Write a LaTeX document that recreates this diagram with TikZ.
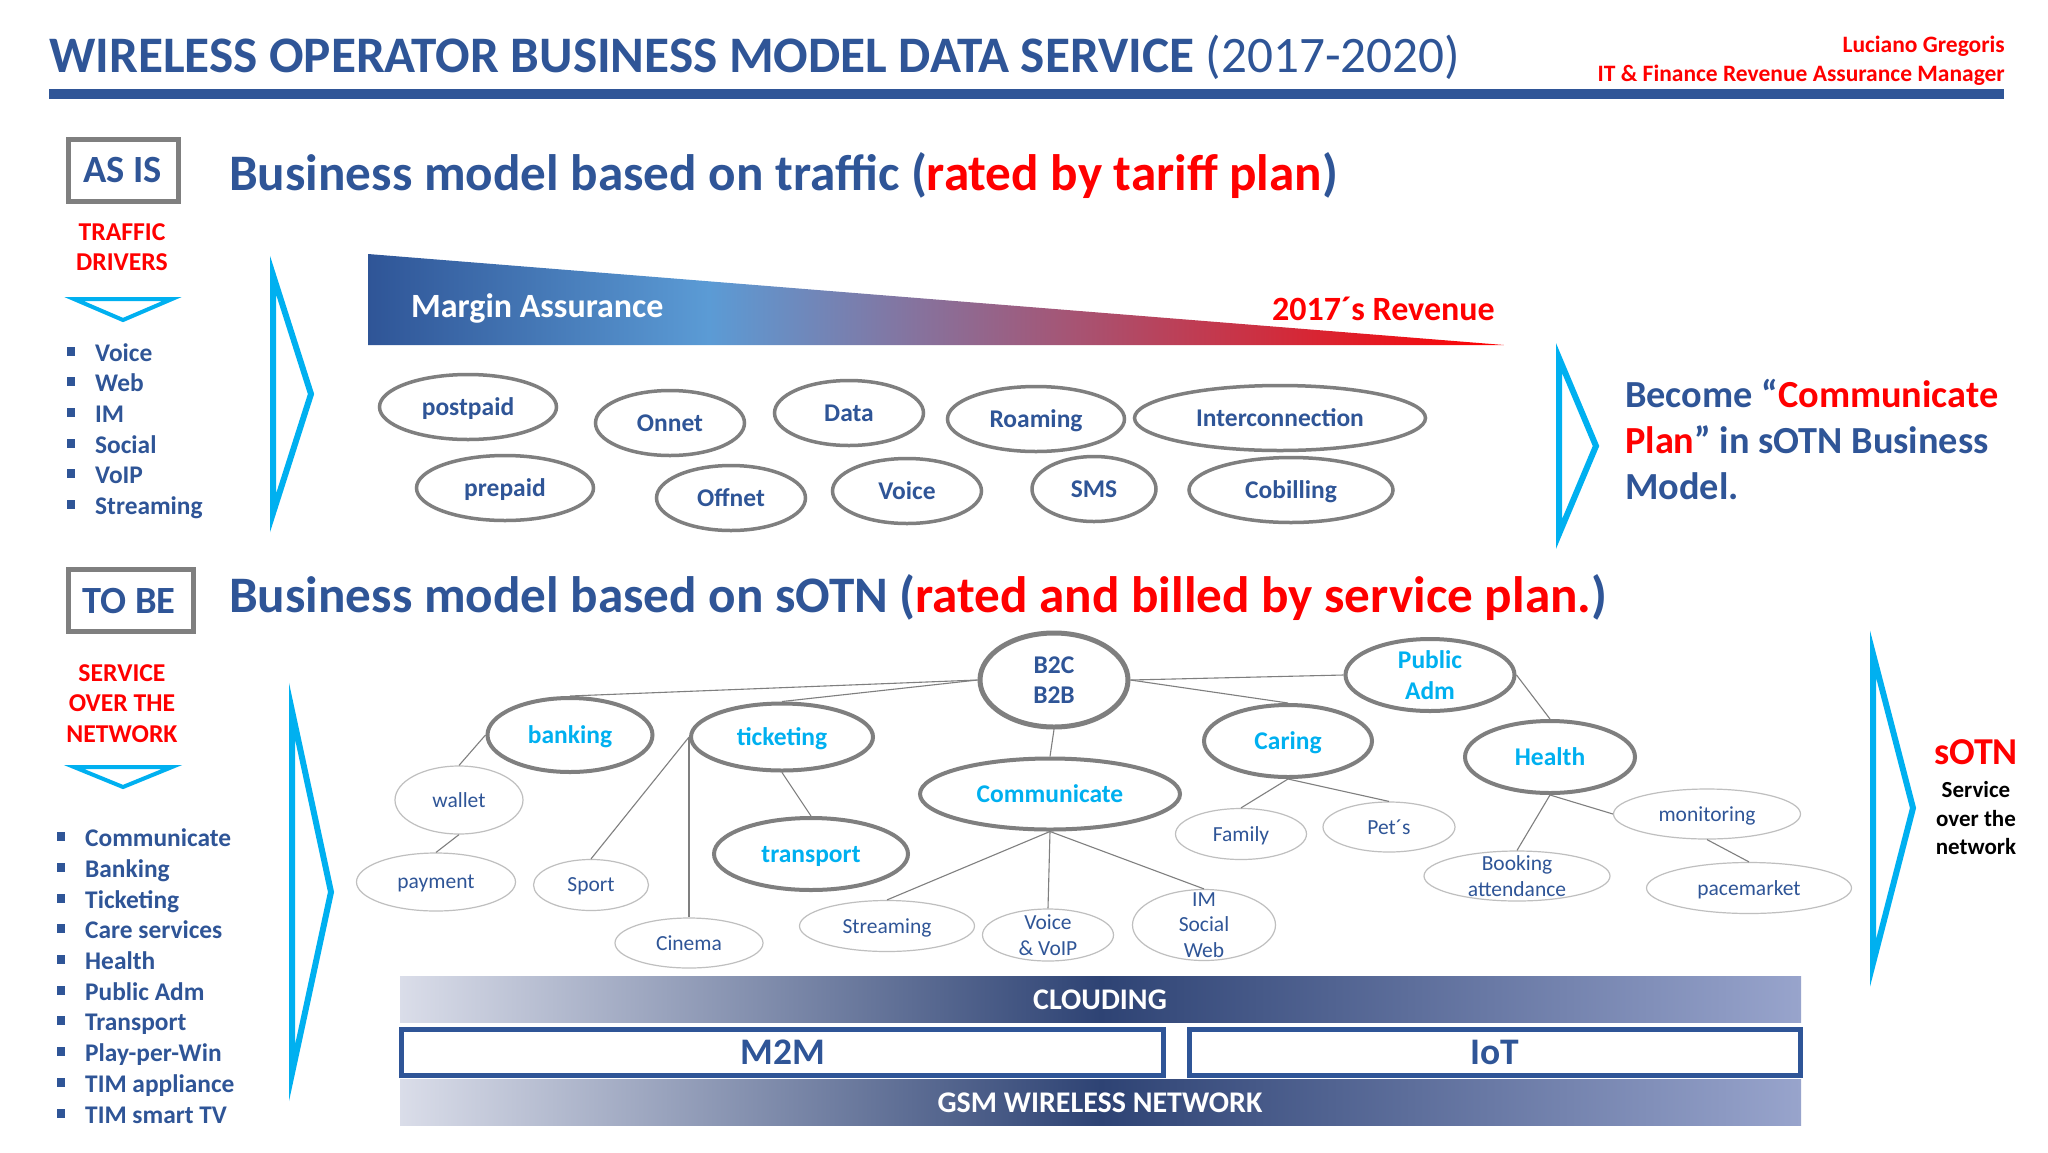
\documentclass[tikz,border=0pt]{standalone}
\usepackage{fontspec}
\setmainfont{Carlito}
\usetikzlibrary{shapes.geometric}
\definecolor{opblue}{HTML}{2F5597}
\definecolor{opcyan}{HTML}{00B0F0}
\definecolor{opred}{HTML}{FF0000}
\definecolor{opgray}{HTML}{7F7F7F}
\definecolor{opthin}{HTML}{BFBFBF}
\definecolor{opsky}{HTML}{5B9BD5}
\definecolor{opfadeL}{HTML}{DADDE9}
\definecolor{opfadeM}{HTML}{2E4374}
\definecolor{opfadeR}{HTML}{98A4CC}
\pgfdeclarehorizontalshading{wedgefade}{100bp}{color(0bp)=(opblue); color(25bp)=(opblue); color(40bp)=(opsky); color(75bp)=(opred); color(100bp)=(opred)}
\newcommand{\fs}[1]{\fontsize{#1}{1.2\dimexpr #1pt\relax}\selectfont}
\tikzset{
  txt/.style={inner sep=0pt, anchor=base west, text=opblue, font=\bfseries\fs{#1}},
  redtxt/.style={inner sep=0pt, anchor=base, text=opred, font=\bfseries\fs{#1}},
  chevron/.style={draw=opcyan, line width=6pt, line join=miter, miter limit=20},
  funnel/.style={draw=opcyan, line width=4pt, line join=miter, miter limit=20},
  plain/.style={ellipse, draw=opgray, line width=3.5pt, inner sep=0pt, text=opblue, font=\bfseries\fs{25.5}, text height=17pt, text depth=0pt},
  group/.style={ellipse, draw=opgray, line width=4pt, fill=white, inner sep=0pt, align=center, text=opcyan, font=\bfseries\fs{25.5}, text depth=0pt},
  leaf/.style={ellipse, draw=opthin, line width=1.2pt, fill=white, inner xsep=0pt, inner ysep=-14pt, align=center, text=opblue, font=\fs{21.5}, text depth=0pt},
  wire/.style={draw=opgray, line width=1.1pt},
  band/.style={left color=opfadeL, right color=opfadeR, middle color=opfadeM},
  bandtxt/.style={inner sep=0pt, text=white, font=\bfseries\fs{30}},
  frame/.style={draw=opblue, line width=5pt, text=opblue, font=\bfseries\fs{37.5}}
}
\begin{document}
\begin{tikzpicture}[x=1pt,y=-1pt]
  \useasboundingbox (0,0) rectangle (2048,1152);
  \fill[white] (0,0) rectangle (2048,1152);
  % header
  \node[txt=51.2] (title) at (49,72) {WIRELESS OPERATOR BUSINESS MODEL DATA SERVICE \mdseries(2017-2020)};
  \fill[opblue] (49,89) rectangle (2004,99);
  \node[inner sep=0pt, anchor=base east, text=opred, font=\bfseries\fs{23.5}] (author) at (2005,52) {Luciano Gregoris};
  \node[inner sep=0pt, anchor=base east, text=opred, font=\bfseries\fs{23.5}] (job) at (2005,81) {IT \& Finance Revenue Assurance Manager};
  % as is
  \draw[opgray, line width=5pt] (68,139.5) rectangle (178,201);
  \node[inner sep=0pt, text=opblue, font=\bfseries\fs{38.5}] (asis) at (122.5,170) {AS IS};
  \node[txt=51.2] (head1) at (229,190) {Business model based on traffic (\textcolor{opred}{rated by tariff plan})};
  \node[redtxt=25.7] (drv1) at (122,240) {TRAFFIC};
  \node[redtxt=25.7] (drv2) at (122,270) {DRIVERS};
  \draw[funnel] (74,299) -- (172,299) -- (123,320) -- cycle;
  \foreach \y/\t in {361/Voice,391/Web,422/IM,453/Social,483/VoIP,514/Streaming} {
    \fill[opblue] (67,\y-14) rectangle (75,\y-5);
    \node[txt=25.4] (drv\y) at (95,\y) {\t};
  }
  \draw[chevron] (273,275) -- (311,394) -- (273,513) -- cycle;
  \path[shading=wedgefade] (368,254) -- (1504,345) -- (368,345) -- cycle;
  \node[inner sep=0pt, anchor=base west, text=white, font=\bfseries\fs{34}] (margin) at (411,317) {Margin Assurance};
  \node[inner sep=0pt, anchor=base west, text=opred, font=\bfseries\fs{34}] (revenue) at (1272,320) {2017´s Revenue};
  \foreach \x/\y/\w/\n/\t in {468/407/177/postpaid/postpaid,505/488/177/prepaid/prepaid,
      670/423/149/onnet/Onnet,731/498/149/offnet/Offnet,849/413/149/data/Data,907/491/149/voice/Voice,
      1036/419/177/roaming/Roaming,1280/418/291/inter/Interconnection,
      1094/489/124/sms/SMS,1291/490/204/cobilling/Cobilling}
    \node[plain, minimum width=\w pt, minimum height=65pt] (\n) at (\x,\y) {\t};
  \draw[chevron] (1559,358) -- (1596,446) -- (1559,534) -- cycle;
  \foreach \y/\t in {407/Become “\textcolor{opred}{Communicate},453/\textcolor{opred}{Plan}” in sOTN Business,499/Model.}
    \node[txt=38.3] (goal\y) at (1625,\y) {\t};
  % to be
  \draw[opgray, line width=5pt] (68,569.5) rectangle (193,631);
  \node[inner sep=0pt, text=opblue, font=\bfseries\fs{38.5}] (tobe) at (129,601) {TO BE};
  \node[txt=51.2] (head2) at (229,612) {Business model based on sOTN (\textcolor{opred}{rated and billed by service plan.})};
  \node[redtxt=25.7] (son1) at (122,681) {SERVICE};
  \node[redtxt=25.7] (son2) at (122,711) {OVER THE};
  \node[redtxt=25.7] (son3) at (122,742) {NETWORK};
  \draw[funnel] (74,767) -- (172,767) -- (123,787) -- cycle;
  \foreach \y/\t in {846/Communicate,877/Banking,908/Ticketing,938/Care services,969/Health,
      1000/Public Adm,1030/Transport,1061/Play-per-Win,1092/TIM appliance,1123/TIM smart TV} {
    \fill[opblue] (57,\y-14) rectangle (65,\y-5);
    \node[txt=25.4] (svc\y) at (85,\y) {\t};
  }
  \draw[chevron] (292,711) -- (331,892) -- (292,1073) -- cycle;
  \draw[chevron] (1873,654) -- (1913,808) -- (1873,963) -- cycle;
  % tree
  \foreach \x/\y/\w/\h/\n/\t in {570/735/165/74/banking/banking,782/737/182/67/ticketing/ticketing,
      811/854/194/72/transport/transport,1050/794/260/71/communicate/Communicate,
      1288/741/168/72/caring/Caring,1430/675/169/72/public/Public\\Adm,1550/757/170/72/health/Health}
    \node[group, minimum width=\w pt, minimum height=\h pt] (\n) at (\x,\y) {\t};
  \node[group, minimum width=148pt, minimum height=94pt, text=opblue, font=\bfseries\fs{25.5}, line width=5pt] (b2c) at (1054,680) {B2C\\B2B};
  \foreach \x/\y/\w/\h/\n/\t in {459/800/128/68/wallet/wallet,436/882/159/58/payment/payment,591/885/115/51/sport/Sport,
      689/943/148/50/cinema/Cinema,887/926/175/51/streaming/Streaming,1048/935/131/52/voip/Voice\\\& VoIP,
      1204/925/143/71/social/IM\\Social\\Web,1241/834/131/51/family/Family,1389/827/132/50/pets/Pet´s,
      1707/814/187/50/monitoring/monitoring,1517/876/186/50/booking/Booking\\attendance,1749/888/205/51/pacemarket/pacemarket}
    \node[leaf, minimum width=\w pt, minimum height=\h pt] (\n) at (\x,\y) {\t};
  \foreach \a/\b in {b2c.west/banking.north,b2c.west/ticketing.north,b2c.south/communicate.north,
      b2c.east/public.west,b2c.east/caring.north,public.east/health.north,
      banking.west/wallet.north,wallet.south/payment.north,ticketing.west/sport.north,ticketing.west/cinema.north,
      ticketing.south/transport.north,communicate.south/streaming.north,communicate.south/voip.north,
      communicate.south/social.north,caring.south/family.north,caring.south/pets.north,
      health.south/booking.north,health.south/monitoring.west,monitoring.south/pacemarket.north}
    \draw[wire] (\a) -- (\b);
  % platform
  \shade[band] (400,976) rectangle (1801,1022);
  \node[bandtxt] (clouding) at (1100,1000) {CLOUDING};
  \shade[band] (400,1079) rectangle (1801,1125);
  \node[bandtxt] (gsm) at (1100,1103) {GSM WIRELESS NETWORK};
  \node[frame, minimum width=762pt, minimum height=46pt, inner sep=0pt] (m2m) at (782.5,1052) {M2M};
  \node[frame, minimum width=611pt, minimum height=46pt, inner sep=0pt] (iot) at (1495,1052) {IoT};
  % result
  \node[redtxt=38] (sotn) at (1976,764) {sOTN};
  \foreach \y/\t in {797/Service,826/over the,854/network}
    \node[inner sep=0pt, anchor=base, font=\bfseries\fs{23}] (res\y) at (1976,\y) {\t};
\end{tikzpicture}
\end{document}
